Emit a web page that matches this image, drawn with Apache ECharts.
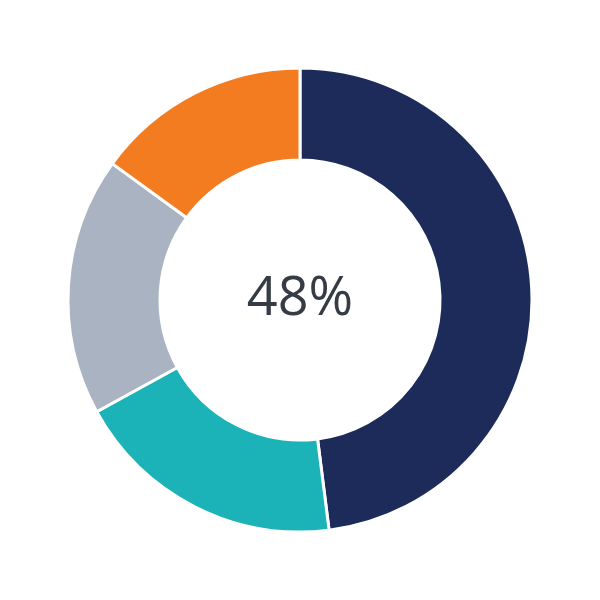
<!DOCTYPE html>
<html>
<head>
<meta charset="utf-8">
<script src="https://cdn.jsdelivr.net/npm/echarts@6/dist/echarts.min.js"></script>
<style>
  html, body { margin: 0; padding: 0; background: #fff; }
  #chart { width: 600px; height: 600px; }
</style>
</head>
<body>
<div id="chart"></div>
<script>
var names = ['A', 'B', 'C', 'D'];
var values = [48, 19, 18, 15];
var colors = ['#1c2b5a', '#1bb3b8', '#a9b3c1', '#f47c20'];
var centerLabel = '48%';

var chart = echarts.init(document.getElementById('chart'));
chart.setOption({
  animation: false,
  color: colors,
  title: {
    text: centerLabel,
    left: 'center',
    top: 'middle',
    textStyle: {
      fontFamily: 'Open Sans',
      fontWeight: 400,
      fontSize: 54,
      color: '#363c45'
    }
  },
  series: [{
    type: 'pie',
    radius: [140, 232],
    center: [300, 300],
    startAngle: 90,
    clockwise: true,
    label: { show: false },
    labelLine: { show: false },
    itemStyle: {
      borderColor: '#fff',
      borderWidth: 3
    },
    data: names.map(function (n, i) {
      return { name: n, value: values[i] };
    })
  }]
});
</script>
</body>
</html>
